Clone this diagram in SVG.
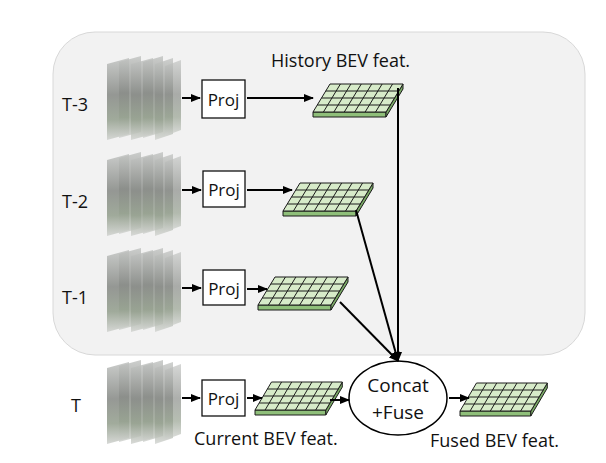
<svg xmlns="http://www.w3.org/2000/svg" width="606" height="463" viewBox="0 0 606 463">
<style>
text{font-family:"Open Sans","Liberation Sans",sans-serif;fill:#111}
.box{fill:#fff;stroke:#111;stroke-width:1.3}
.ln{stroke:#000;stroke-width:2;fill:none}
.g{stroke:#1a1a1a;stroke-width:1;fill:none}
</style>
<defs>
<marker id="ah" viewBox="0 0 10 10" refX="9" refY="5" markerWidth="5" markerHeight="5" orient="auto"><path d="M0,1 L10,5 L0,9 z" fill="#000"/></marker>
<linearGradient id="pg" x1="0" y1="0" x2="0" y2="1">
<stop offset="0" stop-color="#c4c6c4"/><stop offset="0.45" stop-color="#8a8d89"/><stop offset="0.75" stop-color="#97a291"/><stop offset="1" stop-color="#d2d4d1"/></linearGradient>
<g id="stack">
<polygon points="0,8 22,2 22,78 0,84" fill="url(#pg)" opacity="0.9"/>
<polygon points="12,6 34,0 34,76 12,82" fill="url(#pg)" opacity="0.85"/>
<polygon points="24,8 46,2 46,78 24,84" fill="url(#pg)" opacity="0.85"/>
<polygon points="36,6 56,0 56,76 36,82" fill="url(#pg)" opacity="0.85"/>
<polygon points="48,8 66,2 66,78 48,84" fill="url(#pg)" opacity="0.8"/>
<polygon points="58,10 74,4 74,74 58,80" fill="url(#pg)" opacity="0.7"/>
</g>
<g id="grid">
<polygon points="0,28 73,28 73,33 0,33" fill="#8fbf7a" stroke="#1a1a1a"/>
<polygon points="73,28 90,0 90,5 73,33" fill="#7aaa66" stroke="#1a1a1a"/>
<polygon points="17,0 90,0 73,28 0,28" fill="#d7ebc9" stroke="#1a1a1a"/>
<path class="g" d="M27.43,0L10.43,28M37.86,0L20.86,28M48.29,0L31.29,28M58.71,0L41.71,28M69.14,0L52.14,28M79.57,0L62.57,28M12.75,7H85.75M8.5,14H81.5M4.25,21H77.25"/>
</g>
</defs>
<rect width="606" height="463" fill="#fff"/>
<rect x="53" y="32" width="532" height="323" rx="42" fill="#f2f2f2" stroke="#d8d8d8"/>
<g id="labels">
<text x="62" y="111" font-size="18">T-3</text>
<text x="62" y="208" font-size="18">T-2</text>
<text x="62" y="304" font-size="18">T-1</text>
<text x="71" y="412" font-size="18">T</text>
<text x="271" y="67" font-size="18">History BEV feat.</text>
<text x="194" y="445" font-size="18">Current BEV feat.</text>
<text x="430" y="447" font-size="18">Fused BEV feat.</text>
</g>
<g id="stacks">
<use href="#stack" x="107" y="56"/>
<use href="#stack" x="107" y="152"/>
<use href="#stack" x="107" y="248"/>
<use href="#stack" x="107" y="360"/>
</g>
<g id="proj">
<rect class="box" x="202" y="80" width="43" height="38"/><text x="223.5" y="106" font-size="17" text-anchor="middle">Proj</text>
<rect class="box" x="203" y="171" width="42" height="36"/><text x="224" y="196" font-size="17" text-anchor="middle">Proj</text>
<rect class="box" x="203" y="270" width="42" height="35"/><text x="224" y="295" font-size="17" text-anchor="middle">Proj</text>
<rect class="box" x="202" y="380" width="43" height="36"/><text x="223.5" y="405" font-size="17" text-anchor="middle">Proj</text>
</g>
<g id="grids">
<use href="#grid" x="313" y="84"/>
<use href="#grid" x="283" y="183"/>
<use href="#grid" x="258" y="277"/>
<use href="#grid" transform="translate(255,382) scale(0.97,1)"/>
<use href="#grid" transform="translate(460,383) scale(0.97,1)"/>
</g>
<g id="fuse">
<ellipse cx="398" cy="398" rx="49" ry="37" fill="#fff" stroke="#000" stroke-width="1.5"/>
<text x="398" y="392" font-size="19" text-anchor="middle">Concat</text>
<text x="398" y="419" font-size="19" text-anchor="middle">+Fuse</text>
</g>
<g id="connectors">
<path class="ln" marker-end="url(#ah)" d="M182,98H200"/>
<path class="ln" marker-end="url(#ah)" d="M182,190H201"/>
<path class="ln" marker-end="url(#ah)" d="M182,288H201"/>
<path class="ln" marker-end="url(#ah)" d="M182,398H200"/>
<path class="ln" marker-end="url(#ah)" d="M247,98H313"/>
<path class="ln" marker-end="url(#ah)" d="M247,190H292"/>
<path class="ln" marker-end="url(#ah)" d="M247,289H267"/>
<path class="ln" marker-end="url(#ah)" d="M247,398H262"/>
<path class="ln" marker-end="url(#ah)" d="M398,88V361"/>
<path class="ln" marker-end="url(#ah)" d="M356,210L398,361"/>
<path class="ln" marker-end="url(#ah)" d="M340,302L398,361"/>
<path class="ln" marker-end="url(#ah)" d="M330,400H349"/>
<path class="ln" marker-end="url(#ah)" d="M449,398H469"/>
</g>
</svg>
